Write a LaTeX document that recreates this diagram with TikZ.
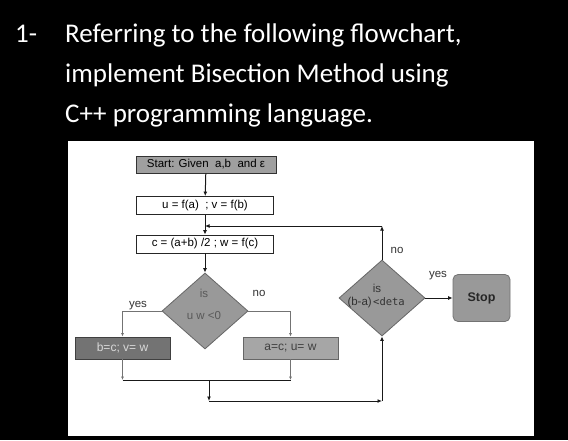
\documentclass[tikz,border=0pt]{standalone}
\usepackage{fontspec}
\setmainfont{Liberation Sans}
\newfontfamily\titlefont{Carlito}
\newfontfamily\monofont{DejaVu Sans Mono}
\usetikzlibrary{shapes.geometric,arrows.meta}
\begin{document}
\begin{tikzpicture}[x=1pt,y=-1pt,
  ttl/.style={text=white,font=\titlefont\fontsize{27}{30}\selectfont,anchor=base west,inner sep=0},
  boxbase/.style={draw,rectangle,inner sep=0,font=\fontsize{11.5}{13}\selectfont,line width=0.9pt},
  startbox/.style={boxbase,fill=gray!75,draw=black!80,minimum width=140,minimum height=17},
  procbox/.style={boxbase,fill=white,draw=black!85,minimum width=137,minimum height=18},
  darkbox/.style={boxbase,fill=black!55,draw=black!75,text=black!15,minimum width=95,minimum height=22,font=\fontsize{12}{13}\selectfont},
  lightbox/.style={boxbase,fill=black!35,draw=black!60,text=black!75,minimum width=95,minimum height=22,font=\fontsize{12}{13}\selectfont},
  decision/.style={diamond,draw=black!60,fill=black!40,line width=0.8pt,inner sep=0,minimum width=86,minimum height=76},
  stopbox/.style={rectangle,rounded corners=5,draw=black!55,fill=black!40,line width=0.8pt,minimum width=57,minimum height=47,font=\bfseries\fontsize{12.5}{14}\selectfont,text=black!85},
  lbl/.style={inner sep=0,font=\fontsize{11.5}{13}\selectfont,text=black!80},
  arr/.style={line width=1pt,draw=black!90,-{Latex[length=4.5pt,width=4pt]}},
  garr/.style={line width=0.8pt,draw=black!55,-{Latex[length=3.5pt,width=3pt]}},
  gline/.style={line width=1pt,draw=black!90}
]
\fill[black] (0,0) rectangle (568,440);
\useasboundingbox (0,0) rectangle (568,440);
\fill[white] (68,141) rectangle (534,436);

% title
\node[ttl] (t0) at (15,42) {1-};
\node[ttl] (t1) at (65,42) {Referring to the following flowchart,};
\node[ttl] (t2) at (65,82) {implement Bisection Method using};
\node[ttl] (t3) at (65,122) {C++ programming language.};

% nodes
\node[startbox] (start) at (206,164.5) {Start: Given \ a,b \ and ε};
\node[procbox] (u) at (205,205.5) {u = f(a) \ ; v = f(b)};
\node[procbox] (c) at (205,244) {c = (a+b) /2 ; w = f(c)};
\node[decision] (d1) at (205,311) {};
\node[lbl,text=black!65] (d1a) at (204,293) {is};
\node[lbl,text=black!65] (d1b) at (204,316) {u w <0};
\node[darkbox] (b) at (122.5,348) {b=c; v= w};
\node[lightbox] (a) at (290.5,348) {a=c; u= w};
\node[decision] (d2) at (382,298) {};
\node[lbl] (d2a) at (377,288) {is};
\node[lbl,anchor=east] (d2b) at (372,303) {(b-a)};
\node[inner sep=0,anchor=west,font=\monofont\fontsize{10.5}{12}\selectfont,text=black!80] (d2c) at (373,302) {<deta};
\node[stopbox] (stop) at (481.5,298) {Stop};

% labels
\node[lbl] (yes1) at (138,306) {yes};
\node[lbl] (no1) at (259,293) {no};
\node[lbl] (no2) at (397,250) {no};
\node[lbl] (yes2) at (438,276) {yes};

% coordinates
\coordinate (bj) at (122.5,380);
\coordinate (aj) at (290.5,380);
\coordinate (m1) at (209,380);
\coordinate (m2) at (209,401);
\coordinate (m3) at (382,401);
\coordinate (n1) at (382,226);
\coordinate (n2) at (205,226);

% connectors
\draw[arr] (start) -- (u);
\draw[arr] (u) -- (c);
\draw[arr] (c) -- (d1);
\draw[garr] (d1.west) -| (b.north);
\draw[garr] (d1.east) -| (a.north);
\draw[garr] (b.south) -- (bj);
\draw[garr] (a.south) -- (aj);
\draw[gline] (bj) -- (aj);
\draw[arr] (m1) -- (m2);
\draw[arr] (m2) -- (m3);
\draw[arr] (m3) -- (d2.south);
\draw[arr] (d2.north) -- (n1);
\draw[arr] (n1) -- (n2);
\draw[arr] (d2.east) -- (stop.west);
\end{tikzpicture}
\end{document}
